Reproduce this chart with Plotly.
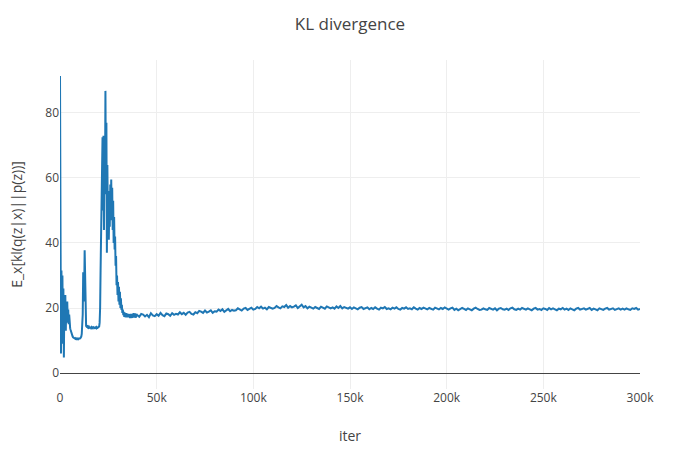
import numpy as np
import plotly.graph_objects as go

# Early phase: one reading every 250 iterations, from 0 to 40k
early_step = 250
early_kl = [
    91.4, 28, 6, 31.5, 9, 30, 12, 26,
    4.8, 22, 14, 24, 13, 21, 15.5, 22,
    16, 19.5, 15, 18, 14.5, 13.8, 13.2, 12.5,
    12.0, 11.6, 11.3, 11.0, 10.9, 10.7, 10.8, 10.6,
    10.5, 10.7, 10.5, 10.4, 10.6, 10.5, 10.4, 10.6,
    10.5, 10.6, 10.7, 10.9, 11.2, 12.0, 14.0, 18,
    31, 22, 25, 37.8, 26, 16, 14.5, 14.3,
    14.4, 14.1, 14.3, 14.0, 14.2, 13.9, 14.1, 14.0,
    13.8, 14.1, 13.9, 14.0, 13.8, 14.1, 13.9, 14.0,
    13.8, 14.0, 13.9, 14.1, 13.8, 14.0, 13.9, 14.1,
    14.0, 14.3, 15.5, 20, 32, 45, 40, 62,
    72.5, 50, 73, 44, 70, 55, 86.8, 60,
    77, 37, 64, 48, 56, 41, 52, 45,
    58, 49, 59.5, 47, 57, 44, 53, 40,
    48, 38, 42, 33, 36, 27, 30, 24,
    28, 22, 26.5, 21, 25, 20, 23, 19.5,
    21, 18.5, 19.5, 17.8, 18.8, 17.3, 18.6, 17.2,
    18.4, 17.1, 18.3, 17.6, 18.2, 17.2, 17.5, 18.1,
    18.1, 16.9, 17.6, 18.2, 17.3, 17.0, 18.1, 17.5,
    18.4, 17.1, 17.6, 18.3, 17.4, 17.0, 18.2, 17.6,
    17.8,
]

# Later phase: one reading every 1000 iterations, from 41k to 300k
late_start = 41000
late_step = 1000
late_kl = [
    17.3, 18.2, 18.0, 17.4, 17.9, 17.2, 18.4, 17.7, 17.5, 18.1,
    17.6, 18.5, 17.8, 17.5, 18.3, 18.1, 17.6, 18.4, 17.9, 18.2,
    18.0, 18.7, 18.1, 18.5, 17.9, 18.6, 18.8, 18.2, 18.0, 18.7,
    18.4, 19.1, 18.9, 18.5, 19.2, 18.6, 18.9, 19.3, 18.5, 19.0,
    18.9, 19.5, 19.1, 19.6, 18.8, 19.3, 19.7, 19.0, 19.4, 19.2,
    19.3, 19.9, 19.5, 19.2, 19.8, 20.0, 19.4, 19.7, 20.1, 19.5,
    19.7, 20.3, 19.9, 20.4, 19.8, 20.1, 19.6, 20.3, 20.0, 19.8,
    20.0, 20.6, 20.2, 19.9, 20.5, 20.3, 20.9, 20.1, 20.6, 20.2,
    20.4, 20.8, 20.0, 20.5, 21.0, 20.2, 20.6, 19.9, 20.4, 20.1,
    19.8, 20.3, 20.1, 19.7, 20.4, 20.0, 19.8, 20.5, 20.2, 19.9,
    20.2, 19.8, 20.5, 20.0, 20.6, 19.9, 20.3, 20.1, 19.8, 20.2,
    19.7, 20.2, 19.9, 19.6, 20.1, 20.3, 19.7, 19.9, 20.2, 19.6,
    20.0, 19.7, 20.2, 19.8, 19.5, 20.1, 19.9, 20.3, 19.7, 19.9,
    19.6, 20.1, 19.8, 20.2, 19.7, 19.5, 20.0, 19.8, 20.2, 19.7,
    19.9, 19.6, 20.2, 19.8, 19.5, 20.0, 19.7, 20.1, 19.9, 19.6,
    20.0, 19.7, 19.5, 20.1, 19.8, 19.6, 20.0, 19.7, 20.2, 19.8,
    19.5, 19.9, 20.1, 19.4, 19.8, 19.3, 19.6, 20.0, 19.7, 19.4,
    19.9, 19.6, 19.3, 19.8, 20.1, 19.7, 19.4, 19.5, 19.9, 19.6,
    19.4, 20.0, 19.7, 19.5, 19.9, 19.3, 19.8, 20.0, 19.6, 19.5,
    19.8, 19.4, 19.9, 20.1, 19.6, 19.4, 19.8, 19.5, 20.0, 19.7,
    19.5, 19.9, 19.6, 19.3, 19.8, 20.0, 19.5, 19.7, 19.4, 19.9,
    19.7, 19.4, 20.0, 19.6, 19.9, 19.5, 19.3, 19.8, 19.6, 20.0,
    19.5, 19.8, 19.4, 19.9, 19.7, 19.3, 19.8, 20.0, 19.5, 19.7,
    19.9, 19.5, 19.7, 20.0, 19.4, 19.8, 19.6, 19.3, 19.9, 19.6,
    19.4, 19.8, 20.0, 19.5, 19.7, 19.9, 19.4, 19.6, 19.9, 19.5,
    19.8, 19.5, 19.9, 19.6, 19.4, 19.9, 19.7, 20.0, 19.5, 19.7,
]

iters = [i * early_step for i in range(len(early_kl))] + \
        [late_start + i * late_step for i in range(len(late_kl))]
kl = early_kl + late_kl

fig = go.Figure(
    go.Scatter(x=iters, y=kl, mode="lines",
               line=dict(color="#1f77b4", width=2))
)
fig.update_layout(
    template="none",
    width=700, height=450,
    title=dict(text="KL divergence", x=0.5),
    margin=dict(l=60, r=60, t=60, b=61),
    showlegend=False,
    xaxis=dict(title=dict(text="iter"), range=[0, 300000],
               gridcolor="#eee", zeroline=False),
    yaxis=dict(title=dict(text="E_x[kl(q(z|x)||p(z))]"), range=[-4.92, 96.3],
               gridcolor="#eee", zeroline=True, zerolinecolor="#444"),
)
fig.write_html("out.html")
